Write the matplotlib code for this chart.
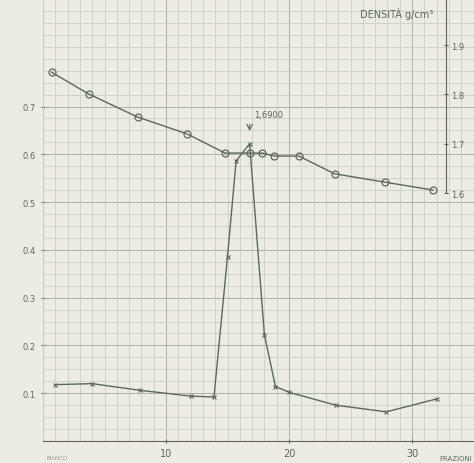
import matplotlib.pyplot as plt
import numpy as np

# absorbance (crosses, left axis)
abs_x = [1, 4, 7.9, 12, 13.9, 15, 15.7, 16.8, 18, 18.9, 20, 23.8, 27.9, 32]
abs_y = [0.118, 0.12, 0.106, 0.094, 0.092, 0.386, 0.586, 0.622, 0.222, 0.114, 0.102, 0.075, 0.061, 0.088]

# density (circles, right axis)
den_x = [0.7, 3.7, 7.7, 11.7, 14.8, 16.8, 17.8, 18.8, 20.8, 23.7, 27.8, 31.7]
den_y = [1.845, 1.801, 1.754, 1.720, 1.681, 1.681, 1.681, 1.675, 1.675, 1.639, 1.622, 1.606]

left_ticks = [0.1, 0.2, 0.3, 0.4, 0.5, 0.6, 0.7]
right_ticks = [1.6, 1.7, 1.8, 1.9]
x_ticks = [10, 20, 30]

paper = '#edece2'
ink = '#5d675d'
gridc = '#c3cabe'

fig = plt.figure(figsize=(4.74, 4.64), dpi=100, facecolor=paper)
ax = fig.add_axes([43/474, 22/464, 431/474, 442/464], facecolor=paper)
ax.set_xlim(0, 431/12.3)
ax.set_ylim(0, 442/490)
ax.set_xticks(np.arange(0, 36, 1), minor=True)
ax.set_yticks(np.arange(0, 0.95, 0.025), minor=True)
ax.grid(True, which='minor', color=gridc, lw=0.5)
ax.set_xticks(x_ticks)
ax.set_xticklabels([str(t) for t in x_ticks], fontsize=7, color=ink)
ax.set_yticks(left_ticks)
ax.set_yticklabels([str(t) for t in left_ticks], fontsize=6, color=ink)
ax.grid(True, which='major', color='#a9b3a4', lw=0.7)
ax.tick_params(colors=ink, length=3, direction='inout')
ax.tick_params(which='minor', length=0)
for s in ['top', 'right']:
    ax.spines[s].set_visible(False)
ax.spines['left'].set_color('#c8cdc3')
ax.spines['bottom'].set_color(ink)

ax.plot(abs_x, abs_y, color=ink, lw=1, marker='x', ms=3, mew=0.8)

ax2 = ax.twinx()
ax2.set_ylim(1.6 - 248/493, 1.6 + 194/493)
ax2.plot(den_x, den_y, color=ink, lw=1, marker='o', ms=5, mfc='none', mew=0.9)
for s in ['top', 'left', 'bottom']:
    ax2.spines[s].set_visible(False)
ax2.spines['right'].set_position(('data', 32.8))
ax2.spines['right'].set_color(ink)
ax2.spines['right'].set_bounds(1.6, 1.993)
ax2.set_yticks(right_ticks)
ax2.set_yticklabels([str(t) for t in right_ticks], fontsize=6, color=ink)
ax2.tick_params(colors=ink, length=3, direction='inout', pad=2)
ax2.tick_params(which='minor', length=0)

ax2.text(31.7, 1.965, 'DENSITÀ g/cm³', fontsize=7, color=ink, ha='right', va='center')
ax2.annotate('', xy=(16.8, 1.72), xytext=(16.8, 1.745),
             arrowprops=dict(arrowstyle='->', color=ink, lw=0.8))
ax2.text(17.2, 1.755, '1,6900', fontsize=6, color=ink)
ax.text(0.3, -0.035, 'BIANCO', fontsize=4, color='#9aa09a', va='center')
ax.text(34.9, -0.035, 'FRAZIONI', fontsize=5, color=ink, va='center', ha='right')

fig.savefig('out.png', dpi=100, facecolor=paper)
